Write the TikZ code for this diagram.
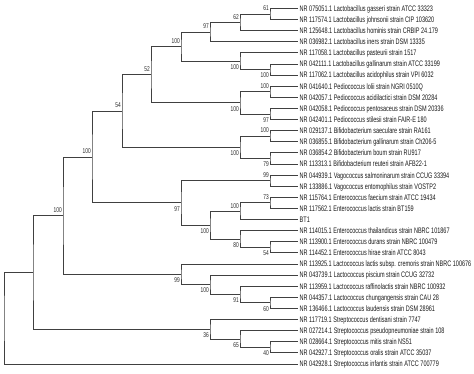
\documentclass[tikz,border=0pt]{standalone}
\usepackage{fontspec}
\newfontfamily\treefont[FakeStretch=0.69]{Liberation Sans}
\usetikzlibrary{calc}

\tikzset{
  branch/.style={draw=black!75, line width=0.95pt},
  leaf/.style={anchor=west, inner sep=1.5pt, text=black!90, text height=1.6ex, text depth=0.3ex,
    font=\treefont\fontsize{8}{9}\selectfont},
  boot/.style={inner sep=1pt, text=black!85, font=\treefont\fontsize{7}{8}\selectfont},
  bsup/.style={anchor=south east, yshift=2pt},
  bsdn/.style={anchor=north east, yshift=-2pt}
}

% join two children at depth x: name, x, upper, lower
\newcommand{\joint}[4]{%
  \path let \p1=(#3), \p2=(#4) in coordinate (#1) at (#2pt,{0.5*(\y1+\y2)});
  \draw[branch] (#3) -| (#1) |- (#4);}
% same, with bootstrap value
\newcommand{\clade}[6]{%
  \joint{#1}{#2}{#3}{#4}
  \node[boot,#6] at (#1) {#5};}

\begin{document}
\begin{tikzpicture}[x=1pt,y=-1pt]
\useasboundingbox (0,0) rectangle (474,374);

% leaves
\node[leaf] (gasseri) at (298,8.5) {NR 075051.1 Lactobacillus gasseri strain ATCC 33323};
\node[leaf] (johnsonii) at (298,19.6) {NR 117574.1 Lactobacillus johnsonii strain CIP 103620};
\node[leaf] (hominis) at (298,30.7) {NR 125648.1 Lactobacillus hominis strain CRBIP 24.179};
\node[leaf] (iners) at (298,41.8) {NR 036982.1 Lactobacillus iners strain DSM 13335};
\node[leaf] (pasteurii) at (298,52.9) {NR 117058.1 Lactobacillus pasteurii strain 1517};
\node[leaf] (gallinarum) at (298,64.1) {NR 042111.1 Lactobacillus gallinarum strain ATCC 33199};
\node[leaf] (acidophilus) at (298,75.2) {NR 117062.1 Lactobacillus acidophilus strain VPI 6032};
\node[leaf] (lolii) at (298,86.3) {NR 041640.1 Pediococcus lolii strain NGRI 0510Q};
\node[leaf] (acidilactici) at (298,97.4) {NR 042057.1 Pediococcus acidilactici strain DSM 20284};
\node[leaf] (pentosaceus) at (298,108.5) {NR 042058.1 Pediococcus pentosaceus strain DSM 20336};
\node[leaf] (stilesii) at (298,119.6) {NR 042401.1 Pediococcus stilesii strain FAIR-E 180};
\node[leaf] (saeculare) at (298,130.7) {NR 029137.1 Bifidobacterium saeculare strain RA161};
\node[leaf] (bgallinarum) at (298,141.8) {NR 036855.1 Bifidobacterium gallinarum strain Ch206-5};
\node[leaf] (boum) at (298,152.9) {NR 036854.2 Bifidobacterium boum strain RU917};
\node[leaf] (reuteri) at (298,164.0) {NR 113313.1 Bifidobacterium reuteri strain AFB22-1};
\node[leaf] (salmoninarum) at (298,175.2) {NR 044939.1 Vagococcus salmoninarum strain CCUG 33394};
\node[leaf] (entomophilus) at (298,186.3) {NR 133886.1 Vagococcus entomophilus strain VOSTP2};
\node[leaf] (faecium) at (298,197.4) {NR 115764.1 Enterococcus faecium strain ATCC 19434};
\node[leaf] (elactis) at (298,208.5) {NR 117562.1 Enterococcus lactis strain BT159};
\node[leaf] (BT1) at (298,219.6) {BT1};
\node[leaf] (thailandicus) at (298,230.7) {NR 114015.1 Enterococcus thailandicus strain NBRC 101867};
\node[leaf] (durans) at (298,241.8) {NR 113900.1 Enterococcus durans strain NBRC 100479};
\node[leaf] (hirae) at (298,252.9) {NR 114452.1 Enterococcus hirae strain ATCC 8043};
\node[leaf] (cremoris) at (298,264.0) {NR 113925.1 Lactococcus lactis subsp. cremoris strain NBRC 100676};
\node[leaf] (piscium) at (298,275.1) {NR 043739.1 Lactococcus piscium strain CCUG 32732};
\node[leaf] (raffinolactis) at (298,286.3) {NR 113959.1 Lactococcus raffinolactis strain NBRC 100932};
\node[leaf] (chungangensis) at (298,297.4) {NR 044357.1 Lactococcus chungangensis strain CAU 28};
\node[leaf] (laudensis) at (298,308.5) {NR 136466.1 Lactococcus laudensis strain DSM 28961};
\node[leaf] (dentisani) at (298,319.6) {NR 117719.1 Streptococcus dentisani strain 7747};
\node[leaf] (pseudopneumoniae) at (298,330.7) {NR 027214.1 Streptococcus pseudopneumoniae strain 108};
\node[leaf] (mitis) at (298,341.8) {NR 028664.1 Streptococcus mitis strain NS51};
\node[leaf] (oralis) at (298,352.9) {NR 042927.1 Streptococcus oralis strain ATCC 35037};
\node[leaf] (infantis) at (298,364.0) {NR 042928.1 Streptococcus infantis strain ATCC 700779};

% Lactobacillus
\clade{gasjoh}{270}{gasseri}{johnsonii}{61}{bsup}
\clade{gashom}{240}{gasjoh}{hominis}{62}{bsup}
\clade{gasine}{210}{gashom}{iners}{97}{bsup}
\clade{galaci}{270}{gallinarum}{acidophilus}{100}{bsdn}
\clade{pasaci}{240}{pasteurii}{galaci}{100}{bsdn}
\clade{lacto}{181}{gasine}{pasaci}{100}{bsup}
% Pediococcus
\clade{lolaci}{270}{lolii}{acidilactici}{100}{bsup}
\clade{pensti}{270}{pentosaceus}{stilesii}{97}{bsdn}
\clade{pedio}{240}{lolaci}{pensti}{100}{bsdn}
\clade{lacped}{151}{lacto}{pedio}{52}{bsup}
% Bifidobacterium
\clade{saegal}{270}{saeculare}{bgallinarum}{100}{bsup}
\clade{bourue}{270}{boum}{reuteri}{79}{bsdn}
\clade{bifido}{240}{saegal}{bourue}{100}{bsdn}
\clade{upper}{122}{lacped}{bifido}{54}{bsup}
% Vagococcus / Enterococcus
\clade{vago}{270}{salmoninarum}{entomophilus}{99}{bsup}
\clade{faelac}{270}{faecium}{elactis}{73}{bsup}
\clade{faebt}{240}{faelac}{BT1}{100}{bsup}
\clade{durhir}{270}{durans}{hirae}{54}{bsdn}
\clade{thadur}{240}{thailandicus}{durhir}{80}{bsdn}
\clade{entero}{210}{faebt}{thadur}{100}{bsdn}
\clade{vagent}{181}{vago}{entero}{97}{bsdn}
\clade{middle}{92}{upper}{vagent}{100}{bsup}
% Lactococcus
\clade{chulau}{270}{chungangensis}{laudensis}{60}{bsdn}
\clade{rafchu}{240}{raffinolactis}{chulau}{91}{bsdn}
\clade{piscra}{210}{piscium}{rafchu}{100}{bsdn}
\clade{lactoc}{181}{cremoris}{piscra}{99}{bsdn}
\clade{bulk}{63}{middle}{lactoc}{100}{bsup}
% Streptococcus
\clade{mitora}{270}{mitis}{oralis}{40}{bsdn}
\clade{psemit}{240}{pseudopneumoniae}{mitora}{65}{bsdn}
\clade{strep}{210}{dentisani}{psemit}{36}{bsdn}
\joint{ingroup}{33}{bulk}{strep}
\joint{root}{4}{ingroup}{infantis}
\end{tikzpicture}
\end{document}
